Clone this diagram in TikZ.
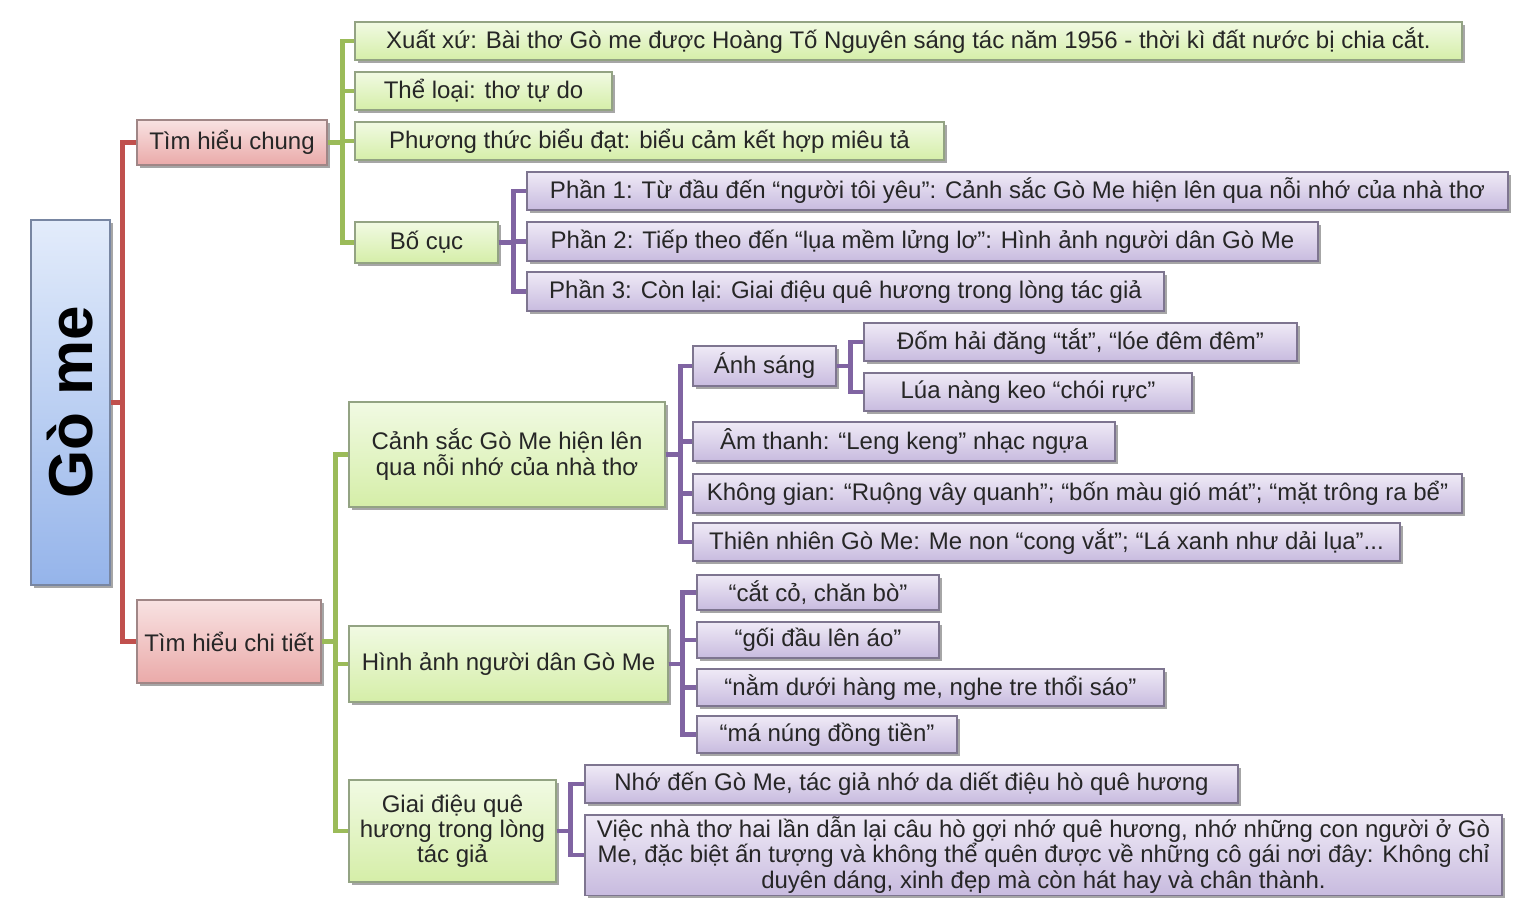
\documentclass[tikz,border=0pt]{standalone}
\usepackage{fontspec}
\setmainfont{Liberation Sans}
\usetikzlibrary{shadows}
\definecolor{redc}{HTML}{C0504D}
\definecolor{greenc}{HTML}{9BBB59}
\definecolor{purplec}{HTML}{8064A2}
\definecolor{gtop}{HTML}{F1FAE3}
\definecolor{gbot}{HTML}{D5EEA8}
\definecolor{gbd}{HTML}{93A383}
\definecolor{ptop}{HTML}{EFEAF6}
\definecolor{pbot}{HTML}{C8BBDF}
\definecolor{pbd}{HTML}{7E7590}
\definecolor{rtop}{HTML}{F8E2E2}
\definecolor{rbot}{HTML}{EAAAA9}
\definecolor{rbd}{HTML}{A08686}
\definecolor{btop}{HTML}{E3ECFB}
\definecolor{bbot}{HTML}{95B4EA}
\definecolor{bbd}{HTML}{7886A2}
\tikzset{
  base/.style={draw, line width=0.6pt, inner sep=1pt, align=center, text=black!85,
    font=\fontsize{12}{12.6}\selectfont,
    drop shadow={shadow xshift=1.6pt, shadow yshift=-1.6pt, opacity=0.35, fill=black}},
  gbox/.style={base, draw=gbd, top color=gtop, bottom color=gbot},
  pbox/.style={base, draw=pbd, top color=ptop, bottom color=pbot},
  rbox/.style={base, draw=rbd, top color=rtop, bottom color=rbot},
  bbox/.style={base, draw=bbd, top color=btop, bottom color=bbot},
  rline/.style={draw=redc, line width=2.3pt},
  gline/.style={draw=greenc, line width=2.3pt},
  pline/.style={draw=purplec, line width=2.3pt},
}
\newcommand\bx[7]{%
  \pgfmathsetmacro\cx{(#3+#5)/2}%
  \pgfmathsetmacro\cy{(#4+#6)/2}%
  \pgfmathsetmacro\ww{(#5-#3)*0.5}%
  \pgfmathsetmacro\hh{(#6-#4)*0.5}%
  \node[#2, minimum width=\ww pt, minimum height=\hh pt] (#1) at (\cx,\cy) {#7};}
\begin{document}
\begin{tikzpicture}[x=0.5pt,y=-0.5pt]
\useasboundingbox (0,0) rectangle (1536,922);
% nodes
\bx{root}{bbox}{31}{220}{110}{585}{}
\node[rotate=90, font=\fontsize{31}{31}\selectfont\bfseries, text=black] (roottext) at (root.center) {Gò me};
\bx{chung}{rbox}{137}{120}{327}{165}{Tìm hiểu chung}
\bx{chitiet}{rbox}{137}{600}{321}{683}{Tìm hiểu chi tiết}
\bx{xuatxu}{gbox}{355}{22}{1462}{60}{Xuất xứ: Bài thơ Gò me được Hoàng Tố Nguyên sáng tác năm 1956 - thời kì đất nước bị chia cắt.}
\bx{theloai}{gbox}{355}{72}{612}{110}{Thể loại: thơ tự do}
\bx{ptbd}{gbox}{355}{122}{944}{160}{Phương thức biểu đạt: biểu cảm kết hợp miêu tả}
\bx{bocuc}{gbox}{355}{222}{498}{263}{Bố cục}
\bx{p1}{pbox}{527}{172}{1508}{210}{Phần 1: Từ đầu đến “người tôi yêu”: Cảnh sắc Gò Me hiện lên qua nỗi nhớ của nhà thơ}
\bx{p2}{pbox}{527}{222}{1318}{261}{Phần 2: Tiếp theo đến “lụa mềm lửng lơ”: Hình ảnh người dân Gò Me}
\bx{p3}{pbox}{527}{272}{1164}{311}{Phần 3: Còn lại: Giai điệu quê hương trong lòng tác giả}
\bx{canhsac}{gbox}{349}{402}{665}{507}{Cảnh sắc Gò Me hiện lên\\qua nỗi nhớ của nhà thơ}
\bx{hinhanh}{gbox}{349}{626}{668}{702}{Hình ảnh người dân Gò Me}
\bx{giaidieu}{gbox}{349}{780}{556}{882}{Giai điệu quê\\hương trong lòng\\tác giả}
\bx{anhsang}{pbox}{693}{346}{836}{386}{Ánh sáng}
\bx{amthanh}{pbox}{693}{422}{1115}{461}{Âm thanh: “Leng keng” nhạc ngựa}
\bx{khonggian}{pbox}{693}{474}{1462}{513}{Không gian: “Ruộng vây quanh”; “bốn màu gió mát”; “mặt trông ra bể”}
\bx{thiennhien}{pbox}{693}{523}{1400}{561}{Thiên nhiên Gò Me: Me non “cong vắt”; “Lá xanh như dải lụa”...}
\bx{dom}{pbox}{864}{323}{1297}{361}{Đốm hải đăng “tắt”, “lóe đêm đêm”}
\bx{lua}{pbox}{864}{373}{1192}{411}{Lúa nàng keo “chói rực”}
\bx{catco}{pbox}{697}{575}{939}{610}{“cắt cỏ, chăn bò”}
\bx{goi}{pbox}{697}{622}{939}{658}{“gối đầu lên áo”}
\bx{nam}{pbox}{697}{669}{1164}{706}{“nằm dưới hàng me, nghe tre thổi sáo”}
\bx{ma}{pbox}{697}{716}{957}{753}{“má núng đồng tiền”}
\bx{nho}{pbox}{585}{765}{1238}{803}{Nhớ đến Gò Me, tác giả nhớ da diết điệu hò quê hương}
\bx{viec}{pbox}{585}{815}{1502}{895}{Việc nhà thơ hai lần dẫn lại câu hò gợi nhớ quê hương, nhớ những con người ở Gò\\Me, đặc biệt ấn tượng và không thể quên được về những cô gái nơi đây: Không chỉ\\duyên dáng, xinh đẹp mà còn hát hay và chân thành.}
% buses
\coordinate (b0) at ([xshift=6pt]root.east);
\coordinate (b1) at ([xshift=7.5pt]chung.east);
\coordinate (b2) at ([xshift=7.5pt]bocuc.east);
\coordinate (b3) at ([xshift=7pt]chitiet.east);
\coordinate (b4) at ([xshift=7.5pt]canhsac.east);
\coordinate (b5) at ([xshift=7pt]anhsang.east);
\coordinate (b6) at ([xshift=7pt]hinhanh.east);
\coordinate (b7) at ([xshift=7pt]giaidieu.east);
% connectors
\draw[rline] (root.east) -- (b0) |- (chung.west);
\draw[rline] (b0) |- (chitiet.west);
\foreach \c in {xuatxu,theloai,ptbd,bocuc}{\draw[gline] (chung.east) -- (b1) |- (\c.west);}
\foreach \c in {p1,p2,p3}{\draw[pline] (bocuc.east) -- (b2) |- (\c.west);}
\foreach \c in {canhsac,hinhanh,giaidieu}{\draw[gline] (chitiet.east) -- (b3) |- (\c.west);}
\foreach \c in {anhsang,amthanh,khonggian,thiennhien}{\draw[pline] (canhsac.east) -- (b4) |- (\c.west);}
\foreach \c in {dom,lua}{\draw[pline] (anhsang.east) -- (b5) |- (\c.west);}
\foreach \c in {catco,goi,nam,ma}{\draw[pline] (hinhanh.east) -- (b6) |- (\c.west);}
\foreach \c in {nho,viec}{\draw[pline] (giaidieu.east) -- (b7) |- (\c.west);}
\end{tikzpicture}
\end{document}
